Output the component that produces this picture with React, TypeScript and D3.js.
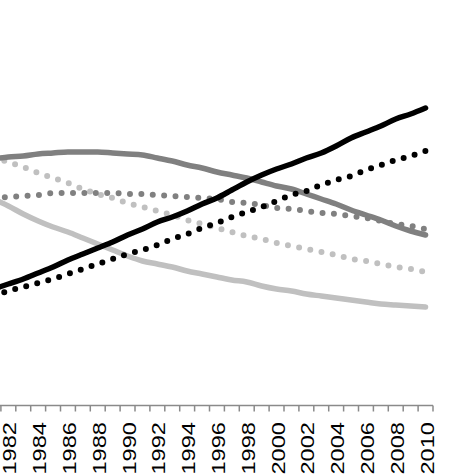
import React, { useEffect, useRef } from 'react';
import * as d3 from 'd3';

const years = d3.range(1981, 2011);
const labelYears = years.filter(y => y % 2 === 0);

const blackSolid = [11.6, 12.1, 12.6, 13.2, 13.8, 14.5, 15.1, 15.7, 16.3, 17.0, 17.6, 18.3, 18.8, 19.4, 20.1, 20.7, 21.5, 22.3, 23.0, 23.6, 24.1, 24.7, 25.2, 25.9, 26.7, 27.3, 27.9, 28.6, 29.1, 29.7];
const blackDotted = [10.9, 11.4, 11.8, 12.2, 12.6, 13.1, 13.6, 14.1, 14.6, 15.1, 15.5, 16.0, 16.6, 17.1, 17.7, 18.2, 18.8, 19.3, 19.8, 20.4, 21.0, 21.4, 22.0, 22.5, 22.9, 23.5, 24.0, 24.5, 24.9, 25.4];
const darkSolid = [24.6, 24.8, 24.9, 25.1, 25.2, 25.3, 25.3, 25.3, 25.2, 25.1, 25.0, 24.7, 24.4, 24.0, 23.7, 23.3, 23.0, 22.7, 22.3, 21.9, 21.6, 21.1, 20.6, 20.1, 19.5, 19.0, 18.5, 17.9, 17.4, 17.0];
const darkDotted = [20.7, 20.8, 20.9, 21.0, 21.2, 21.2, 21.2, 21.2, 21.2, 21.1, 21.1, 21.0, 20.9, 20.8, 20.7, 20.6, 20.3, 20.2, 20.0, 19.7, 19.6, 19.4, 19.2, 19.1, 18.9, 18.7, 18.4, 18.1, 17.9, 17.6];
const lightDotted = [24.8, 24.3, 23.8, 23.2, 22.7, 22.2, 21.6, 21.1, 20.7, 20.2, 19.8, 19.4, 19.0, 18.5, 18.1, 17.7, 17.3, 16.9, 16.6, 16.2, 15.9, 15.6, 15.3, 15.0, 14.6, 14.4, 14.1, 13.8, 13.6, 13.3];
const lightSolid = [20.6, 19.9, 19.1, 18.4, 17.8, 17.3, 16.7, 16.1, 15.5, 14.9, 14.4, 14.1, 13.8, 13.4, 13.1, 12.8, 12.5, 12.3, 11.9, 11.6, 11.4, 11.1, 10.9, 10.7, 10.5, 10.3, 10.1, 10.0, 9.9, 9.8];

const series = [
  { values: lightSolid, color: '#c0c0c0', dotted: false },
  { values: lightDotted, color: '#c0c0c0', dotted: true },
  { values: darkSolid, color: '#808080', dotted: false },
  { values: darkDotted, color: '#808080', dotted: true },
  { values: blackDotted, color: '#000000', dotted: true },
  { values: blackSolid, color: '#000000', dotted: false },
];

export default function App() {
  const node = useRef<SVGSVGElement | null>(null);

  useEffect(() => {
    const svg = d3.select(node.current);
    svg.selectAll('*').remove();

    const axisY = 405.5;
    const right = 433;
    const band = 14.9;

    const x = d3.scaleBand<number>()
      .domain(d3.range(1980, 2011))
      .range([right - 31 * band, right])
      .padding(0);
    const cx = (yr: number) => (x(yr) as number) + x.bandwidth() / 2;

    const y = d3.scaleLinear().domain([0, 40]).range([405, 5]);

    const line = d3.line<number>()
      .x((d, i) => cx(years[i]))
      .y(d => y(d))
      .curve(d3.curveMonotoneX);

    // axis
    const axis = svg.append('g');
    axis.append('line')
      .attr('x1', -30).attr('x2', right)
      .attr('y1', axisY).attr('y2', axisY)
      .attr('stroke', '#8a8a8a').attr('stroke-width', 1.5);

    const tickXs = d3.range(1980, 2011).map(yr => x(yr) as number).concat([right]);
    axis.selectAll('line.tick')
      .data(tickXs)
      .enter()
      .append('line')
        .attr('class', 'tick')
        .attr('x1', d => d).attr('x2', d => d)
        .attr('y1', axisY).attr('y2', axisY + 6)
        .attr('stroke', '#8a8a8a').attr('stroke-width', 1.5);

    axis.selectAll('text')
      .data(labelYears)
      .enter()
      .append('text')
        .attr('transform', d => `translate(${cx(d) + 8}, 422) rotate(-90) scale(1.35, 1)`)
        .attr('text-anchor', 'end')
        .attr('font-family', '"Liberation Sans", Arial, sans-serif')
        .attr('font-size', 17.5)
        .attr('fill', '#000')
        .text(d => String(d));

    // lines
    svg.selectAll('path.series')
      .data(series)
      .enter()
      .append('path')
        .attr('class', 'series')
        .attr('d', d => line(d.values))
        .attr('fill', 'none')
        .attr('stroke', d => d.color)
        .attr('stroke-width', d => d.dotted ? 6 : 5.5)
        .attr('stroke-linecap', 'round')
        .attr('stroke-linejoin', 'round')
        .attr('stroke-dasharray', d => d.dotted ? '0 11.4' : null);
  }, []);

  return (
    <svg
      ref={node}
      width={474}
      height={474}
      style={{ position: 'absolute', left: 0, top: 0, background: '#fff' }}
    />
  );
}
